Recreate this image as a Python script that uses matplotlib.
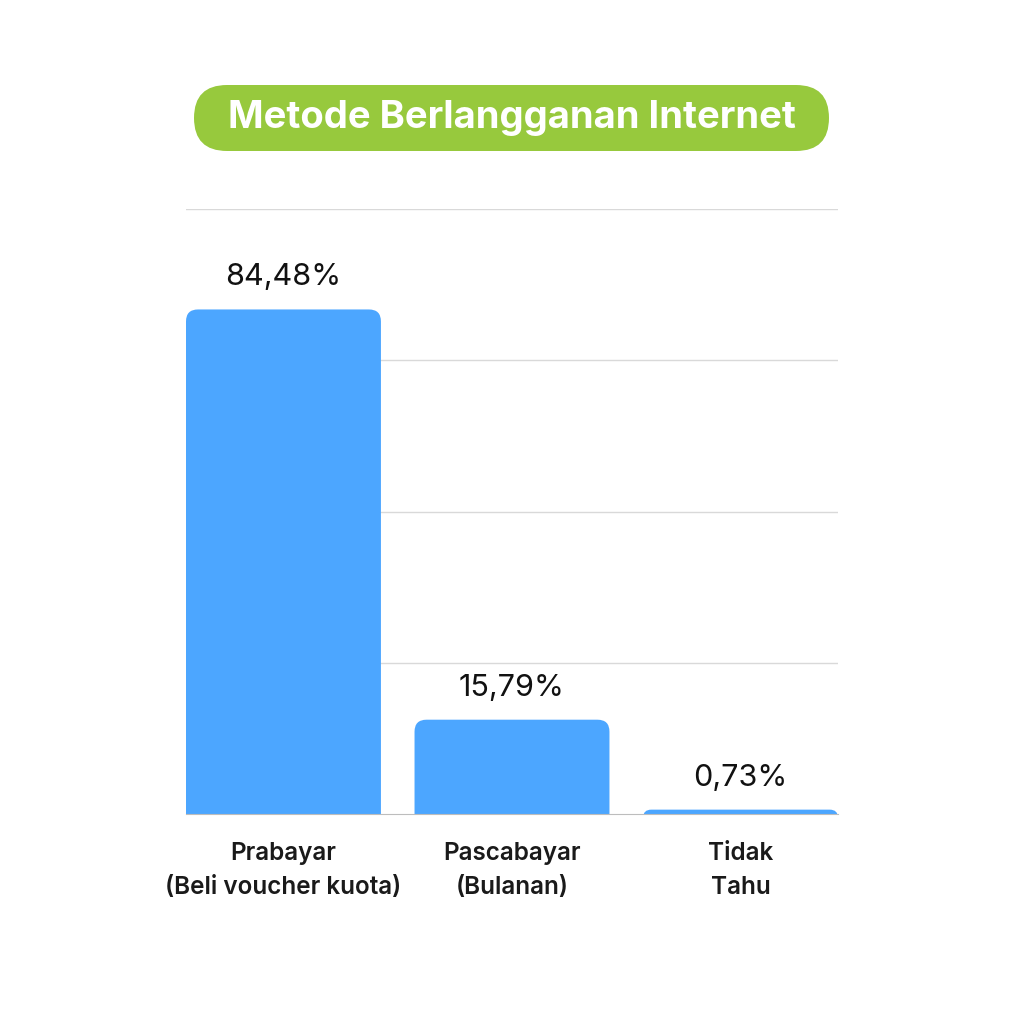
import matplotlib
matplotlib.use("Agg")
import matplotlib.pyplot as plt
from matplotlib.patches import FancyBboxPatch

plt.rcParams['font.family'] = ['Inter', 'DejaVu Sans']

categories = ["Prabayar\n(Beli voucher kuota)", "Pascabayar\n(Bulanan)", "Tidak\nTahu"]
values = [84.48, 15.79, 0.73]
value_labels = ["84,48%", "15,79%", "0,73%"]
title = "Metode Berlangganan Internet"
ymax = 101.3

bar_color = "#4ca6ff"
green = "#97c93d"

fig = plt.figure(figsize=(10.24, 10.24), dpi=100)
W = H = 1024
ax = fig.add_axes([186 / W, (H - 814) / H, (838 - 186) / W, (814 - 209) / H])

width = 0.853
ax.set_xlim(-width / 2, 2 + width / 2)
ax.set_ylim(0, ymax)

# data units per pixel
xpp = (2 + width) / (838 - 186)
ypp = ymax / (814 - 209)
aspect = ypp / xpp

radius_px = 12
for i, v in enumerate(values):
    h_px = v / ypp
    r = min(radius_px, (h_px + radius_px) / 2)
    x0 = i - width / 2
    # box starts below the baseline so the bottom corners are clipped away
    p = FancyBboxPatch((x0, -radius_px * ypp), width, v + radius_px * ypp,
                       boxstyle="round,pad=0,rounding_size=%f" % (r * xpp),
                       mutation_aspect=aspect, fc=bar_color, ec="none", zorder=3)
    ax.add_patch(p)
    ax.annotate(value_labels[i], (i, v), xytext=(0, 18), textcoords="offset pixels",
                ha="center", va="bottom", fontsize=22, color="#111111")

ax.set_yticks([ymax * k / 4 for k in range(1, 5)])
ax.grid(axis="y", color="#d9d9d9", linewidth=1, zorder=0)
ax.tick_params(axis="y", length=0, labelleft=False)
ax.set_xticks(range(len(categories)))
ax.set_xticklabels(categories, fontsize=17.5, fontweight="semibold", color="#1a1a1a",
                   linespacing=1.6)
ax.tick_params(axis="x", length=0, pad=20)
for s in ["left", "right", "top"]:
    ax.spines[s].set_visible(False)
ax.spines["bottom"].set_color("#bdbdbd")
ax.spines["bottom"].set_zorder(4)

pill = FancyBboxPatch((194 / W, (H - 151) / H), (829 - 194) / W, 66 / H,
                      boxstyle="round,pad=0,rounding_size=%f" % (33 / W),
                      transform=fig.transFigure, fc=green, ec="none")
fig.add_artist(pill)
fig.text(512 / W, (H - 118) / H, title, ha="center", va="center",
         fontsize=27.5, fontweight="bold", color="white")

fig.savefig("out.png", dpi=100, facecolor="white")
